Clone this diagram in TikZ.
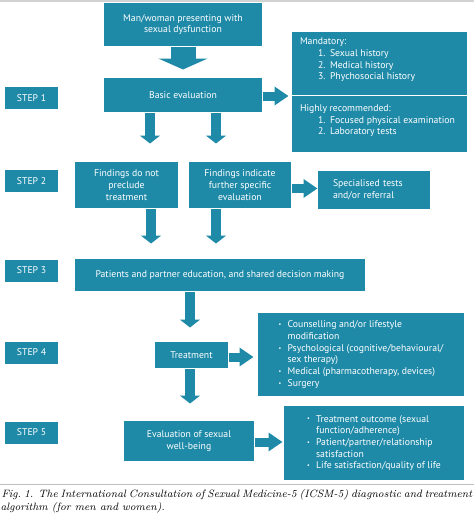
\documentclass[tikz,border=0pt]{standalone}
\usepackage{fontspec}
\newfontfamily\boxfont{PT Sans}
\usetikzlibrary{arrows.meta}
\definecolor{icsmteal}{RGB}{31,138,168}
\newcommand\dotitem{\makebox[6.75pt][l]{\raisebox{0.8pt}{\fontsize{4.5}{4.5}\selectfont\textbullet}}}
\newcommand\dotcont{\hspace*{6.75pt}}

\tikzset{every picture/.style={line width=0.75pt}}
\tikzset{
  flowbox/.style={fill=icsmteal, text=white, inner sep=0pt, align=center,
    font=\boxfont\fontsize{7.3}{8.8}\selectfont},
  stepbox/.style={flowbox, minimum width=39.75pt, minimum height=16.5pt},
  boxtext/.style={anchor=north west, inner sep=0pt, align=left, text=white,
    font=\boxfont\fontsize{7.3}{8.7}\selectfont},
  downarrow/.style={draw=icsmteal, line width=7.5pt, -{Triangle[length=6pt,width=15pt]}},
  sidearrow/.style={draw=icsmteal, line width=6.75pt, -{Triangle[length=10.5pt,width=13.5pt]}},
  bigarrow/.style={draw=icsmteal, line width=18.75pt, -{Triangle[length=8.25pt,width=36.75pt]}}
}

\begin{document}
\begin{tikzpicture}[x=0.75pt,y=0.75pt,yscale=-1,xscale=1]
\useasboundingbox (0,0) rectangle (474,521);
\fill[gray!35] (0,0) rectangle (474,2);

% Step labels
\node[stepbox] (step1) at (31.5,98) {STEP 1};
\node[stepbox] (step2) at (31.5,181) {STEP 2};
\node[stepbox] (step3) at (31.5,270.5) {STEP 3};
\node[stepbox] (step4) at (31.5,352.5) {STEP 4};
\node[stepbox] (step5) at (31.5,432.5) {STEP 5};

% Step 1
\node[flowbox, minimum width=118.5pt, minimum height=32.25pt] (present) at (183,24.5) {Man/woman presenting with\\sexual dysfunction};
\node[flowbox, minimum width=118.5pt, minimum height=25.5pt] (basic) at (183,95) {Basic evaluation};
\node[flowbox, minimum width=131.25pt, minimum height=47.25pt] (mand) at (379.5,63.5) {};
\node[boxtext] (mandtxt) at ([xshift=6pt,yshift=4.5pt]mand.north west) {Mandatory:\\
  \hspace*{13.5pt}1.\hspace{3.5pt}Sexual history\\
  \hspace*{13.5pt}2.\hspace{3.5pt}Medical history\\
  \hspace*{13.5pt}3.\hspace{3.5pt}Phychosocial history};
\node[flowbox, minimum width=131.25pt, minimum height=42pt] (recom) at (379.5,124) {};
\node[boxtext] (recomtxt) at ([xshift=6pt,yshift=6.5pt]recom.north west) {Highly recommended:\\
  \hspace*{13.5pt}1.\hspace{3.5pt}Focused physical examination\\
  \hspace*{13.5pt}2.\hspace{3.5pt}Laboratory tests};

% Step 2
\node[flowbox, minimum width=77.25pt, minimum height=34.5pt] (notpre) at (126.5,185) {Findings do not\\preclude\\treatment};
\node[flowbox, minimum width=76.5pt, minimum height=34.5pt] (indic) at (240,185) {Findings indicate\\further specific\\evaluation};
\node[flowbox, text width=61.5pt, inner xsep=11.25pt, align=left, minimum height=28.5pt] (special) at (374,190) {Specialised tests\\and/or referral};

% Step 3
\node[flowbox, minimum width=217.5pt, minimum height=24pt] (patients) at (220,275) {Patients and partner education, and shared decision making};

% Step 4
\node[flowbox, minimum width=54.75pt, minimum height=19.5pt] (treat) at (191.5,355) {Treatment};
\node[flowbox, align=left, minimum width=154.5pt, minimum height=62.25pt] (options) at (361,354.5) {\dotitem Counselling and/or lifestyle\\
  \dotcont modification\\
  \dotitem Psychological (cognitive/behavioural/\\
  \dotcont sex therapy)\\
  \dotitem Medical (pharmacotherapy, devices)\\
  \dotitem Surgery};

% Step 5
\node[flowbox, minimum width=97.5pt, minimum height=30pt] (evalw) at (189,441) {Evaluation of sexual\\well-being};
\node[flowbox, align=left, minimum width=135pt, minimum height=55.5pt] (outcome) at (374,443) {\dotitem Treatment outcome (sexual\\
  \dotcont function/adherence)\\
  \dotitem Patient/partner/relationship\\
  \dotcont satisfaction\\
  \dotitem Life satisfaction/quality of life};

% Arrows
\draw[bigarrow] (present.south) -- ++(0,23);
\draw[sidearrow] ([yshift=0.75pt]basic.east) -- ++(26,0);
\draw[downarrow] ([xshift=-24.75pt]basic.south) -- ++(0,31);
\draw[downarrow] ([xshift=24.75pt]basic.south) -- ++(0,31);
\draw[downarrow] ([xshift=18.4pt]notpre.south) -- ++(0,35);
\draw[downarrow] ([xshift=-18pt]indic.south) -- ++(0,35);
\draw[sidearrow] ([yshift=2.6pt]indic.east) -- ++(26,0);
\draw[downarrow] ([xshift=-22.5pt]patients.south) -- ++(0,36);
\draw[sidearrow] ([yshift=1.5pt]treat.east) -- ++(25,0);
\draw[downarrow] ([xshift=-1.1pt]treat.south) -- ++(0,35);
\draw[sidearrow] ([yshift=0.75pt]evalw.east) -- ++(28,0);

% Caption
\draw[gray!50] (0,484.5) -- (474,484.5);
\node[anchor=base west, inner sep=0pt, font=\fontsize{8}{9.75}\selectfont\itshape] (cap1) at (1,497.5)
  {\makebox[353pt][s]{Fig.~1. The International Consultation of Sexual Medicine-5 (ICSM-5) diagnostic and treatment}};
\node[anchor=base west, inner sep=0pt, font=\fontsize{8}{9.75}\selectfont\itshape] (cap2) at (0,510)
  {algorithm (for men and women).};

\end{tikzpicture}
\end{document}
